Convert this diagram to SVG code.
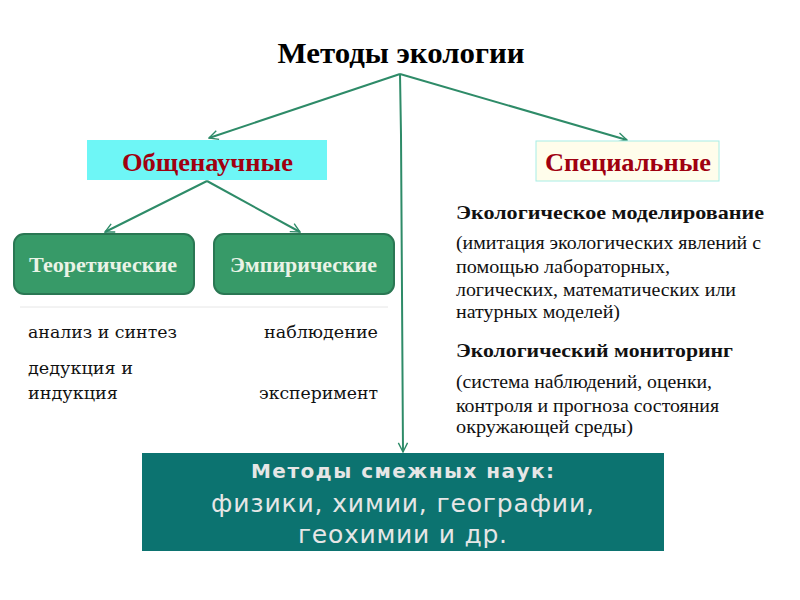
<svg xmlns="http://www.w3.org/2000/svg" width="800" height="600" viewBox="0 0 800 600">
<style>
.conn{stroke:#2E8B68;stroke-width:2;fill:none}
.title{font-family:"Liberation Serif",serif;font-weight:bold;font-size:30px;fill:#000;text-anchor:middle}
.head{font-family:"Liberation Serif",serif;font-weight:bold;font-size:26px;fill:#A00010;text-anchor:middle}
.pill{fill:#379A68;stroke:#2A7753;stroke-width:2}
.pilltxt{font-family:"Liberation Serif",serif;font-weight:bold;font-size:20px;fill:#EAF3E6;text-anchor:middle}
.body{font-family:"DejaVu Serif","Liberation Serif",serif;font-size:17px;fill:#111}
.rt{font-family:"Liberation Serif",serif;font-size:19px;fill:#111}
.rtb{font-family:"Liberation Serif",serif;font-size:19px;font-weight:bold;fill:#111}
.bot{font-family:"DejaVu Sans",sans-serif;fill:#E6E6E6;text-anchor:middle}
</style>
<defs>
<marker id="ah" viewBox="0 0 12 12" refX="11" refY="6" markerWidth="11" markerHeight="11" markerUnits="userSpaceOnUse" orient="auto">
<polyline points="1,1 11,6 1,11" fill="none" stroke="#2E8B68" stroke-width="1.5"/>
</marker>
</defs>
<rect width="800" height="600" fill="#fff"/>
<g id="title"><text x="401" y="63" class="title" textLength="247" lengthAdjust="spacingAndGlyphs">Методы экологии</text></g>
<g id="connectors">
<line class="conn" x1="400" y1="74" x2="209" y2="138" marker-end="url(#ah)"/>
<line class="conn" x1="400" y1="74" x2="627" y2="140" marker-end="url(#ah)"/>
<polyline class="conn" points="400,74 401,135 403,452" marker-end="url(#ah)"/>
<line class="conn" x1="207" y1="181" x2="105" y2="232" marker-end="url(#ah)"/>
<line class="conn" x1="207" y1="181" x2="300" y2="232" marker-end="url(#ah)"/>
</g>
<g id="obshchenauchnye"><rect x="87" y="140" width="240" height="40" fill="#6EF6F6"/><text x="207.5" y="171" class="head" textLength="171" lengthAdjust="spacingAndGlyphs">Общенаучные</text></g>
<g id="spetsialnye"><rect x="536" y="141" width="183" height="40" fill="#FFFDEB" stroke="#A8EDE5" stroke-width="1"/><text x="628" y="171" class="head" textLength="166" lengthAdjust="spacingAndGlyphs">Специальные</text></g>
<g id="teoreticheskie"><rect x="14" y="234" width="180" height="60" rx="10" class="pill"/><text x="103" y="272" class="pilltxt" textLength="148" lengthAdjust="spacingAndGlyphs">Теоретические</text></g>
<g id="empiricheskie"><rect x="214" y="234" width="180" height="60" rx="10" class="pill"/><text x="303.5" y="272" class="pilltxt" textLength="147" lengthAdjust="spacingAndGlyphs">Эмпирические</text></g>
<line x1="20" y1="307" x2="388" y2="307" stroke="#E6E6E6" stroke-width="1"/>
<g id="theory-list">
<text x="28" y="338" class="body" textLength="149" lengthAdjust="spacingAndGlyphs">анализ и синтез</text>
<text x="28" y="374" class="body" textLength="105" lengthAdjust="spacingAndGlyphs">дедукция и</text>
<text x="28" y="399" class="body" textLength="90" lengthAdjust="spacingAndGlyphs">индукция</text>
</g>
<g id="empiric-list">
<text x="264" y="338" class="body" textLength="114" lengthAdjust="spacingAndGlyphs">наблюдение</text>
<text x="259" y="399" class="body" textLength="119" lengthAdjust="spacingAndGlyphs">эксперимент</text>
</g>
<g id="special-list">
<text x="456" y="219" class="rtb" textLength="308" lengthAdjust="spacingAndGlyphs">Экологическое моделирование</text>
<text x="456" y="249" class="rt" textLength="305" lengthAdjust="spacingAndGlyphs">(имитация экологических явлений с</text>
<text x="456" y="273" class="rt" textLength="214" lengthAdjust="spacingAndGlyphs">помощью лабораторных,</text>
<text x="456" y="296" class="rt" textLength="280" lengthAdjust="spacingAndGlyphs">логических, математических или</text>
<text x="456" y="318" class="rt" textLength="164" lengthAdjust="spacingAndGlyphs">натурных моделей)</text>
<text x="456" y="357" class="rtb" textLength="277" lengthAdjust="spacingAndGlyphs">Экологический мониторинг</text>
<text x="456" y="388" class="rt" textLength="256" lengthAdjust="spacingAndGlyphs">(система наблюдений, оценки,</text>
<text x="456" y="412" class="rt" textLength="263" lengthAdjust="spacingAndGlyphs">контроля и прогноза состояния</text>
<text x="456" y="433" class="rt" textLength="177" lengthAdjust="spacingAndGlyphs">окружающей среды)</text>
</g>
<g id="smezhnye"><rect x="142" y="453" width="522" height="98" fill="#0C7370"/>
<text x="402.5" y="478" class="bot" font-size="20" font-weight="bold" textLength="303" lengthAdjust="spacing">Методы смежных наук:</text>
<text x="402.5" y="512" class="bot" font-size="25" textLength="383" lengthAdjust="spacing">физики, химии, географии,</text>
<text x="402.5" y="543" class="bot" font-size="25" textLength="209" lengthAdjust="spacing">геохимии и др.</text>
</g>
</svg>
